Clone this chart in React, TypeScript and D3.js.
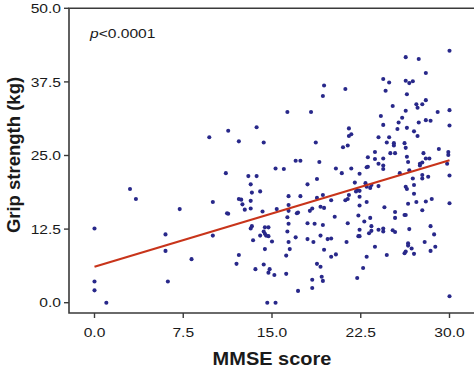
import React, { useEffect, useRef } from 'react';
import * as d3 from 'd3';

// MMSE score (x) and grip strength in kg (y)
const mmse = [
  0, 0, 0, 1.0, 6.0, 6.0, 8.2, 6.2, 14.6, 15.3, 17.2, 18.4, 18.4, 19.3, 30.0,
  3.0, 3.5, 7.2, 9.7, 19.4, 19.3, 16.3, 18.3, 13.7, 11.3,
  30.0, 26.3, 27.4, 28.0, 21.2, 24.4, 24.9, 26.3, 26.6, 26.9, 24.6, 26.4, 25.2, 27.2, 27.3,
  27.7, 28.0, 26.3, 29.0, 30.0, 24.2, 26.0, 25.7, 24.4, 27.4, 28.0, 28.4, 30.0, 21.5, 25.6,
  26.4, 27.0, 21.7,
  12.2, 14.3, 18.7, 17.0, 17.4, 19.0, 15.3, 16.0, 11.1, 13.0, 13.7, 18.8, 13.2, 18.0, 13.3,
  14.0, 16.4, 17.4, 18.8, 19.3, 10.0, 12.2, 12.4, 13.2, 12.5, 16.4, 12.7, 13.2, 14.2, 15.4,
  16.4, 11.2, 11.3, 17.1, 17.2, 18.2, 18.4, 19.1, 19.4, 16.3,
  21.5, 24.0, 24.9, 27.3, 24.7, 25.3, 25.3, 26.2, 21.0, 21.4, 26.3, 29.1, 29.9, 29.9, 25.0,
  25.4, 27.8, 23.7, 23.1, 23.7, 24.4, 26.4, 28.0, 28.3, 26.5, 24.0, 27.5, 27.7, 29.8, 24.4,
  27.5, 23.1, 23.0, 20.4, 21.7, 24.4, 20.9, 22.4, 25.8, 26.6, 27.7, 27.7, 28.2, 30.0, 26.9,
  22.0, 22.9, 23.4, 23.0, 23.3, 24.0, 27.0, 26.3, 26.4, 22.2, 22.4, 22.1, 21.5, 21.4, 21.2,
  22.4, 27.0, 20.0, 28.5, 28.0, 27.2, 26.5, 23.0, 30.0, 22.4, 24.5, 25.4, 27.7, 26.2, 20.3,
  22.3, 23.3, 25.4, 26.3,
  13.3, 13.2, 14.4, 14.7, 14.3, 14.4, 14.0, 14.5, 14.7, 13.4, 15.0, 10.0, 16.4, 16.3, 18.0,
  18.6, 19.3, 19.1, 18.0, 18.5, 19.7, 17.0, 16.4, 16.5, 14.4, 16.2, 19.4, 12.2, 12.0, 14.3,
  13.6, 14.8, 14.7, 15.2, 16.2, 18.8, 19.1, 19.2,
  21.4, 22.8, 23.4, 22.4, 23.4, 23.2, 24.0, 24.4, 24.4, 25.2, 25.4, 26.6, 28.4, 28.7, 22.3,
  22.4, 20.0, 21.3, 26.5, 26.5, 27.9, 28.8, 28.4, 23.7, 26.8, 26.3, 26.2, 27.0, 20.4, 20.0,
  24.7, 23.0, 22.7, 22.2,
];
const grip = [
  12.6, 3.6, 2.1, 0.0, 11.6, 8.8, 7.4, 3.6, 0.0, 0.0, 2.0, 2.5, 3.9, 3.7, 1.1,
  19.3, 17.6, 15.9, 28.1, 36.9, 35.1, 32.4, 32.4, 29.8, 29.2,
  42.8, 41.7, 41.4, 39.0, 36.3, 38.0, 37.4, 37.7, 37.3, 37.6, 36.0, 35.4, 33.4, 33.7, 33.1,
  33.7, 34.4, 32.6, 32.4, 32.7, 31.7, 31.4, 30.6, 30.2, 30.6, 31.0, 30.9, 30.1, 29.6, 29.5,
  29.7, 29.1, 28.6,
  27.4, 27.2, 27.2, 24.1, 24.1, 23.9, 22.8, 22.7, 22.0, 21.5, 21.5, 21.0, 20.1, 20.1, 18.7,
  18.9, 18.1, 18.1, 17.8, 18.3, 17.1, 17.6, 17.5, 17.3, 16.7, 16.6, 15.8, 16.0, 15.5, 15.9,
  15.6, 15.2, 15.1, 15.2, 15.3, 15.6, 16.0, 16.3, 16.1, 14.5,
  28.3, 28.1, 28.1, 28.3, 27.2, 27.1, 26.7, 27.1, 26.4, 26.7, 26.3, 26.1, 25.6, 25.1, 25.4,
  25.4, 25.4, 25.6, 24.7, 24.4, 24.5, 24.8, 24.5, 24.5, 23.9, 23.6, 23.6, 23.8, 23.6, 23.3,
  23.3, 23.1, 23.0, 22.8, 22.8, 22.7, 22.0, 21.9, 22.0, 22.5, 21.7, 21.1, 21.4, 21.6, 21.1,
  20.4, 20.3, 20.0, 19.7, 19.5, 19.8, 20.0, 19.7, 19.3, 19.1, 19.0, 18.9, 18.3, 17.6, 17.4,
  18.0, 18.5, 17.4, 17.6, 17.2, 17.1, 16.8, 17.1, 16.9, 16.5, 16.2, 15.4, 15.7, 14.9, 14.6,
  14.8, 14.4, 14.4, 14.9,
  13.0, 12.6, 12.8, 12.8, 12.1, 11.7, 11.4, 11.4, 11.3, 10.6, 10.4, 11.4, 13.4, 12.1, 13.5,
  13.4, 13.2, 11.4, 10.8, 10.3, 10.8, 11.1, 10.3, 9.1, 9.1, 8.0, 9.0, 8.1, 6.6, 6.5,
  5.7, 5.7, 5.1, 4.7, 4.9, 6.6, 6.1, 4.4,
  13.5, 13.8, 13.0, 12.4, 12.2, 11.8, 12.4, 12.6, 12.1, 12.3, 12.0, 12.5, 13.0, 11.6, 11.3,
  11.3, 10.9, 10.3, 10.1, 9.7, 10.3, 9.5, 8.8, 9.5, 9.2, 8.7, 8.4, 8.3, 8.2, 7.8,
  8.1, 7.8, 5.9, 4.2,
];

// fitted regression line end points
const fitX = [0, 30];
const fitY = [6.1, 24.2];

const xTicks = [0, 7.5, 15, 22.5, 30];
const yTicks = [0, 12.5, 25, 37.5, 50];

const W = 474;
const H = 372;

export default function App() {
  const svgRef = useRef<SVGSVGElement>(null);

  useEffect(() => {
    if (!svgRef.current) return;
    const svg = d3.select(svgRef.current);
    svg.selectAll('*').remove();

    const x = d3.scaleLinear().domain([0, 30]).range([94.5, 449.5]);
    const y = d3.scaleLinear().domain([0, 50]).range([302.7, 8.3]);
    const axisBottomY = 313;
    const axisLeftX = 69;
    const font = '"Liberation Sans", Arial, sans-serif';
    const ink = '#3a3a3a';

    // frame: left axis, bottom axis, top line
    svg.append('path')
      .attr('d', `M${W},${y(50)}H${axisLeftX}V${axisBottomY}H${W}`)
      .attr('fill', 'none')
      .attr('stroke', ink)
      .attr('stroke-width', 1.6);

    // x ticks
    const xt = svg.append('g');
    xTicks.forEach(t => {
      xt.append('line')
        .attr('x1', x(t)).attr('x2', x(t))
        .attr('y1', axisBottomY).attr('y2', axisBottomY + 5)
        .attr('stroke', ink).attr('stroke-width', 1.4);
      xt.append('text')
        .attr('transform', `translate(${x(t)},336.7) scale(1.2,1)`)
        .attr('text-anchor', 'middle')
        .attr('font-family', font)
        .attr('font-size', 13)
        .attr('fill', '#1a1a1a')
        .text(d3.format('.1f')(t));
    });

    // y ticks
    const yt = svg.append('g');
    yTicks.forEach(t => {
      yt.append('line')
        .attr('x1', axisLeftX - 5).attr('x2', axisLeftX)
        .attr('y1', y(t)).attr('y2', y(t))
        .attr('stroke', ink).attr('stroke-width', 1.4);
      yt.append('text')
        .attr('transform', `translate(61,${y(t) + 4.7}) scale(1.2,1)`)
        .attr('text-anchor', 'end')
        .attr('font-family', font)
        .attr('font-size', 13)
        .attr('fill', '#1a1a1a')
        .text(d3.format('.1f')(t));
    });

    // points
    svg.append('g')
      .selectAll('circle')
      .data(mmse)
      .enter()
      .append('circle')
      .attr('cx', d => x(d))
      .attr('cy', (d, i) => y(grip[i]))
      .attr('r', 2.05)
      .attr('fill', '#28288a');

    // regression line
    const line = d3.line<number>()
      .x(d => x(d))
      .y((d, i) => y(fitY[i]));
    svg.append('path')
      .attr('d', line(fitX))
      .attr('fill', 'none')
      .attr('stroke', '#c8341a')
      .attr('stroke-width', 2.2);

    // p value
    const p = svg.append('text')
      .attr('transform', 'translate(90,38) scale(1.2,1)')
      .attr('font-family', font)
      .attr('font-size', 13)
      .attr('fill', '#1a1a1a');
    p.append('tspan').attr('font-style', 'italic').text('p');
    p.append('tspan').text('<0.0001');

    // axis titles
    svg.append('text')
      .attr('transform', 'translate(272,364.5) scale(1.08,1)')
      .attr('text-anchor', 'middle')
      .attr('font-family', font)
      .attr('font-size', 18.5)
      .attr('font-weight', 'bold')
      .attr('fill', '#1a1a1a')
      .text('MMSE score');

    svg.append('text')
      .attr('transform', 'translate(19.5,155) rotate(-90)')
      .attr('text-anchor', 'middle')
      .attr('font-family', font)
      .attr('font-size', 18.5)
      .attr('font-weight', 'bold')
      .attr('fill', '#1a1a1a')
      .text('Grip strength (kg)');
  }, []);

  return (
    <svg
      ref={svgRef}
      width={W}
      height={H}
      style={{ position: 'absolute', left: 0, top: 0, background: '#fff' }}
    />
  );
}
